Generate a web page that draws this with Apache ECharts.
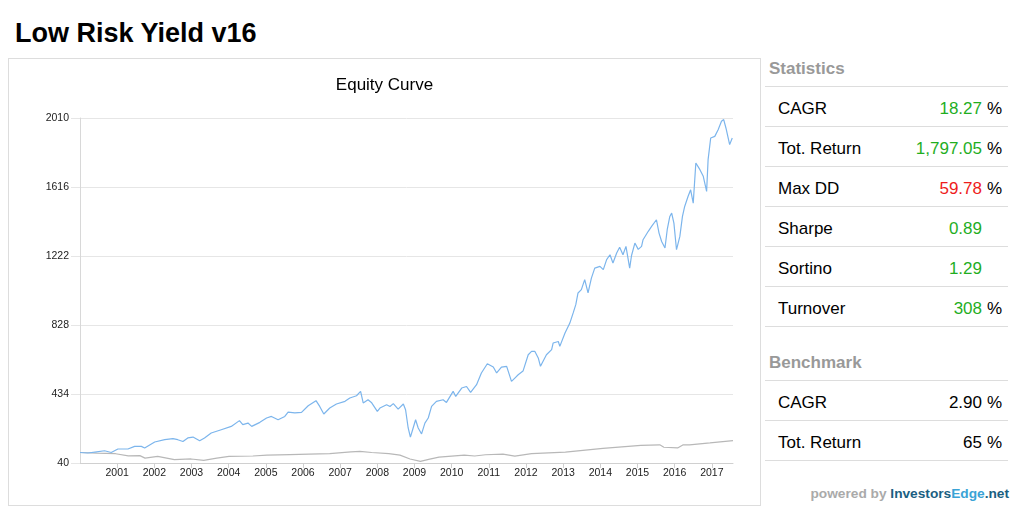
<!DOCTYPE html>
<html><head><meta charset="utf-8">
<script src="https://cdn.jsdelivr.net/npm/echarts@6/dist/echarts.min.js"></script>
<style>
body{margin:0;width:1024px;height:512px;background:#fff;font-family:"Liberation Sans",Arial,sans-serif;position:relative;overflow:hidden;color:#000}
#title{position:absolute;left:15px;top:17px;font-size:27px;line-height:32px;font-weight:bold}
#box{position:absolute;left:8px;top:58px;width:751px;height:446px;border:1px solid #ddd}
#chart{width:751px;height:446px}
.hdr{position:absolute;left:769px;font-size:17px;line-height:20px;font-weight:bold;color:#999}
.row{position:absolute;left:765px;width:243px;height:40px;border-top:1px solid #ddd;box-sizing:border-box;font-size:17px}
.row span{position:absolute;top:12px;line-height:20px;white-space:nowrap}
.lbl{left:13px}
.num{right:26px}
.pct{left:222px}
.endline{position:absolute;left:765px;width:243px;border-top:1px solid #ddd}
#powered{position:absolute;right:15px;top:485px;font-size:13.7px;line-height:18px;font-weight:bold;color:#aaa;white-space:nowrap}
</style></head>
<body>
<div id="title"></div>
<div id="box"><div id="chart"></div></div>
<div id="panel"></div>
<div id="powered">powered by <span style="color:#1b5f82">Investors</span><span style="color:#3aa3d6">Edge</span><span style="color:#1b5f82">.net</span></div>
<script>
const pageTitle = "Low Risk Yield v16";
const chartTitle = "Equity Curve";

// Strategy equity curve (decimal year, value)
const stratT = [2000.00,2000.21,2000.45,2000.66,2000.84,2001.02,2001.29,2001.47,2001.65,2001.74,2002.01,2002.28,2002.50,2002.63,2002.77,2002.90,2003.04,2003.22,2003.35,2003.53,2003.80,2004.07,2004.29,2004.38,2004.52,2004.62,2004.84,2005.02,2005.15,2005.33,2005.51,2005.60,2005.78,2005.96,2006.14,2006.35,2006.45,2006.56,2006.72,2006.90,2007.13,2007.26,2007.44,2007.55,2007.62,2007.75,2007.84,2008.00,2008.07,2008.25,2008.34,2008.43,2008.56,2008.70,2008.76,2008.83,2008.89,2008.95,2009.03,2009.10,2009.19,2009.28,2009.37,2009.46,2009.50,2009.59,2009.77,2009.86,2010.04,2010.11,2010.27,2010.40,2010.51,2010.67,2010.80,2010.96,2011.12,2011.21,2011.34,2011.48,2011.61,2011.70,2011.79,2011.92,2012.06,2012.15,2012.24,2012.33,2012.39,2012.55,2012.69,2012.73,2012.87,2012.91,2013.05,2013.18,2013.27,2013.34,2013.40,2013.49,2013.58,2013.67,2013.76,2013.85,2013.99,2014.08,2014.17,2014.26,2014.34,2014.44,2014.52,2014.61,2014.69,2014.79,2014.84,2014.93,2015.02,2015.11,2015.15,2015.29,2015.38,2015.51,2015.58,2015.65,2015.74,2015.80,2015.87,2015.92,2015.98,2016.05,2016.14,2016.21,2016.27,2016.36,2016.43,2016.50,2016.57,2016.68,2016.77,2016.86,2016.90,2016.97,2017.08,2017.17,2017.26,2017.32,2017.38,2017.48,2017.55];
const stratV = [100,97,104,110,100,120,120,135,135,126,160,173,179,173,163,183,188,167,183,211,230,249,282,259,268,249,272,297,306,287,306,331,326,329,367,396,363,320,354,377,392,411,424,449,383,401,386,335,354,373,363,379,348,377,344,240,188,230,287,240,206,268,297,363,354,392,401,386,449,420,468,477,443,487,554,607,588,554,588,592,506,525,544,565,658,677,677,640,592,658,687,725,734,706,782,839,897,944,1011,1030,1087,1011,1096,1153,1163,1144,1201,1229,1182,1239,1272,1229,1277,1153,1225,1296,1260,1277,1315,1363,1391,1429,1353,1305,1268,1372,1448,1467,1410,1258,1334,1448,1505,1562,1600,1524,1753,1715,1677,1591,1772,1896,1905,1943,1991,2001,1953,1858,1896];

// Benchmark curve (decimal year, value)
const benchT = [2000.00,2000.45,2000.96,2001.30,2001.61,2001.75,2002.09,2002.54,2002.99,2003.33,2003.68,2004.01,2004.65,2005.03,2005.65,2006.16,2006.72,2007.29,2007.53,2007.85,2008.31,2008.61,2008.88,2009.16,2009.41,2009.66,2010.34,2010.62,2010.91,2011.38,2011.70,2012.15,2013.06,2014.07,2015.09,2015.60,2015.71,2016.08,2016.22,2016.40,2016.95,2017.57];
const benchV = [100,96,93,81,82,68,78,59,63,55,68,78,80,85,88,91,94,104,106,100,93,85,63,49,62,74,85,80,87,91,79,93,102,124,141,144,130,126,143,144,155,168];

const yMin = 40, yMax = 2010, yStep = 394;
const xMin = 2000, xMax = 2017.57;

const statsRows = [
  ["CAGR", "18.27", "%", "pos"],
  ["Tot. Return", "1,797.05", "%", "pos"],
  ["Max DD", "59.78", "%", "neg"],
  ["Sharpe", "0.89", "", "pos"],
  ["Sortino", "1.29", "", "pos"],
  ["Turnover", "308", "%", "pos"]
];
const benchRows = [
  ["CAGR", "2.90", "%", "plain"],
  ["Tot. Return", "65", "%", "plain"]
];

document.getElementById('title').textContent = pageTitle;
const colorMap = {pos:'#1fae1f', neg:'#ee1c1c', plain:'#000'};
const panel = document.getElementById('panel');
function addHeader(text, top){
  const d=document.createElement('div'); d.className='hdr'; d.style.top=top+'px'; d.textContent=text; panel.appendChild(d);
}
function addRows(rows, top){
  rows.forEach((r,i)=>{
    const d=document.createElement('div'); d.className='row'; d.style.top=(top+40*i)+'px';
    d.innerHTML='<span class="lbl"></span><span class="num"></span><span class="pct"></span>';
    d.children[0].textContent=r[0];
    d.children[1].textContent=r[1]; d.children[1].style.color=colorMap[r[3]];
    d.children[2].textContent=r[2];
    panel.appendChild(d);
  });
  const e=document.createElement('div'); e.className='endline'; e.style.top=(top+40*rows.length)+'px'; panel.appendChild(e);
}
addHeader("Statistics", 59);
addRows(statsRows, 86);
addHeader("Benchmark", 353);
addRows(benchRows, 380);

const chart = echarts.init(document.getElementById('chart'), null, {renderer:'canvas'});
const fam = '"Liberation Sans", Arial, sans-serif';
chart.setOption({
  animation:false,
  backgroundColor:'#fff',
  title:{text:chartTitle,left:'center',top:13,textStyle:{fontFamily:fam,fontSize:17,fontWeight:'normal',color:'#000'}},
  grid:{left:71,top:59,width:653,height:345,containLabel:false},
  xAxis:{type:'value',min:xMin,max:xMax,interval:1,
    axisLine:{show:true,lineStyle:{color:'#d0d0d0'}},
    axisTick:{show:true,length:5,lineStyle:{color:'#d0d0d0'}},
    splitLine:{show:false},
    axisLabel:{fontFamily:fam,fontSize:10.5,color:'#222',margin:5,showMinLabel:false,showMaxLabel:false,
      formatter:v=> (Number.isInteger(v) && v>xMin) ? String(v) : ''}},
  yAxis:{type:'value',min:yMin,max:yMax,interval:yStep,
    axisLine:{show:true,lineStyle:{color:'#d8d8d8'}},
    axisTick:{show:true,length:9,lineStyle:{color:'#e6e6e6'}},
    splitLine:{show:true,lineStyle:{color:'#e6e6e6'}},
    axisLabel:{fontFamily:fam,fontSize:10.5,color:'#222',margin:11,formatter:v=>String(v)}},
  series:[
    {type:'line',name:'Benchmark',data:benchT.map((t,i)=>[t,benchV[i]]),showSymbol:false,symbol:'none',
     lineStyle:{color:'#b8b8b8',width:1.2},z:2},
    {type:'line',name:'Strategy',data:stratT.map((t,i)=>[t,stratV[i]]),showSymbol:false,symbol:'none',
     lineStyle:{color:'#7cb5ec',width:1.2},z:3}
  ]
});
</script>
</body></html>
